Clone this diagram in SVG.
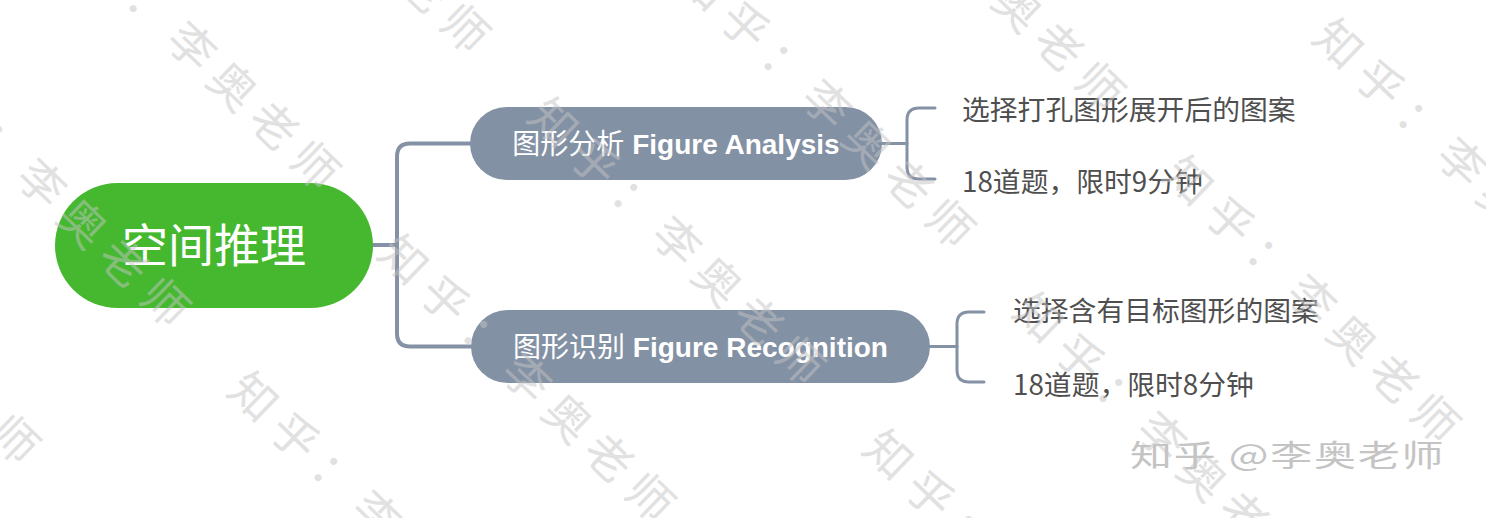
<svg xmlns="http://www.w3.org/2000/svg" xmlns:xlink="http://www.w3.org/1999/xlink" width="1486" height="518" viewBox="0 0 1486 518">
<style>
.root-t{font-family:"Noto Sans CJK SC",sans-serif;font-size:46px;fill:#ffffff;font-weight:400}
.node-t{font-family:"Liberation Sans","Noto Sans CJK SC",sans-serif;font-size:28px;fill:#ffffff}
.zh{font-family:"Noto Sans CJK SC",sans-serif;font-weight:400}
.en{font-family:"Liberation Sans",sans-serif;font-weight:700}
.leaf{font-family:"Noto Sans CJK SC",sans-serif;font-size:27.8px;fill:#4f4f4f}
.main-conn{fill:none;stroke:#8591a5;stroke-width:4;stroke-linecap:round}
.leaf-conn{fill:none;stroke:#8591a5;stroke-width:3;stroke-linecap:round}
.wm{font-family:"Noto Sans CJK SC",sans-serif;font-size:46px;fill:#c4c4c4;opacity:0.5}
</style>
<defs>
<text id="wmtext" class="wm" transform="rotate(44)" text-anchor="middle" dominant-baseline="central" x="-342 -285 -228 -171 -114 -57 0" y="0">知乎：李奥老师</text>
</defs>
<rect x="0" y="0" width="1486" height="518" fill="#ffffff"/>
<g id="connectors">
<path class="main-conn" d="M373,245 H397"/>
<path class="main-conn" d="M470,143.5 H410 Q397,143.5 397,156.5 V333.5 Q397,346.5 410,346.5 H471"/>
<path class="leaf-conn" d="M882,143.5 H907"/>
<path class="leaf-conn" d="M935,108 H919 Q907,108 907,120 V167 Q907,179 919,179 H935"/>
<path class="leaf-conn" d="M930,346.5 H957"/>
<path class="leaf-conn" d="M984,312 H969 Q957,312 957,324 V370 Q957,382 969,382 H984"/>
</g>
<g id="root">
<rect x="55" y="183" width="318" height="125" rx="62.5" fill="#45b82f"/>
<text class="root-t" x="214" y="262" text-anchor="middle">空间推理</text>
</g>
<g id="node-analysis">
<rect x="470" y="107" width="412" height="73" rx="36.5" fill="#8391a5"/>
<text class="node-t" x="676" y="154" text-anchor="middle"><tspan class="zh">图形分析</tspan><tspan class="en"> Figure Analysis</tspan></text>
</g>
<g id="node-recognition">
<rect x="471" y="310" width="459" height="73" rx="36.5" fill="#8391a5"/>
<text class="node-t" x="700.5" y="357" text-anchor="middle"><tspan class="zh">图形识别</tspan><tspan class="en"> Figure Recognition</tspan></text>
</g>
<g id="leaf-a1"><text class="leaf" x="962" y="120">选择打孔图形展开后的图案</text></g>
<g id="leaf-a2"><text class="leaf" x="962" y="192">18道题，限时9分钟</text></g>
<g id="leaf-r1"><text class="leaf" x="1013" y="321">选择含有目标图形的图案</text></g>
<g id="leaf-r2"><text class="leaf" x="1013" y="395">18道题，限时8分钟</text></g>
<g id="watermarks">
<use xlink:href="#wmtext" transform="translate(317,163)"/>
<use xlink:href="#wmtext" transform="translate(167,300)"/>
<use xlink:href="#wmtext" transform="translate(17,437)"/>
<use xlink:href="#wmtext" transform="translate(467,26)"/>
<use xlink:href="#wmtext" transform="translate(802,358)"/>
<use xlink:href="#wmtext" transform="translate(652,495)"/>
<use xlink:href="#wmtext" transform="translate(502,632)"/>
<use xlink:href="#wmtext" transform="translate(952,221)"/>
<use xlink:href="#wmtext" transform="translate(1102,84)"/>
<use xlink:href="#wmtext" transform="translate(1287,553)"/>
<use xlink:href="#wmtext" transform="translate(1137,690)"/>
<use xlink:href="#wmtext" transform="translate(1437,416)"/>
<use xlink:href="#wmtext" transform="translate(1587,279)"/>
<text transform="translate(1130,466) scale(1.4,1)" font-family="Noto Sans CJK SC, sans-serif" font-size="30" fill="#c4c4c4" textLength="224" lengthAdjust="spacing">知乎 @李奥老师</text>
</g>
</svg>
